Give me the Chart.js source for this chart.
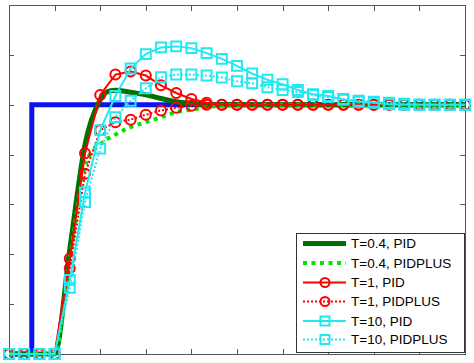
<!DOCTYPE html>
<html>
<head>
<meta charset="utf-8">
<script src="https://cdn.jsdelivr.net/npm/chart.js@4/dist/chart.umd.min.js"></script>
<style>
  html, body { margin: 0; padding: 0; background: #fff; overflow: hidden; }
  #wrap { position: relative; width: 474px; height: 363px; overflow: hidden; }
  #c { position: absolute; left: 0; top: -4px; }
  #legend { position: absolute; left: 296px; top: 233px; }
</style>
</head>
<body>
<div id="wrap">
  <canvas id="c" width="474" height="367"></canvas>
  <svg id="legend" width="170" height="121" xmlns="http://www.w3.org/2000/svg"></svg>
</div>
<script>
// ---- data ----
const times = [0, 0.333, 0.667, 1, 1.333, 1.667, 2, 2.333, 2.667, 3, 3.333, 3.667, 4, 4.333, 4.667,
               5, 5.333, 5.667, 6, 6.333, 6.667, 7, 7.333, 7.667, 8, 8.333, 8.667, 9, 9.333, 9.667, 10];

const stepTimes  = [0, 0.5, 0.5, 10];
const stepValues = [0, 0, 1, 1];

const pid04 = [0, 0, 0, 0, 0.42, 0.84, 1.02, 1.058, 1.05, 1.04, 1.025, 1.012, 1.005, 1.0, 1.0,
               1.0, 1.0, 1.0, 1.0, 1.0, 1.0, 1.0, 1.0, 1.0, 1.0, 1.0, 1.0, 1.0, 1.0, 1.0, 1.0];
const pidplus04 = [0, 0, 0, 0, 0.38, 0.75, 0.84, 0.88, 0.91, 0.93, 0.95, 0.97, 0.98, 0.99, 0.996,
               1.0, 1.0, 1.0, 1.0, 1.0, 1.0, 1.0, 1.0, 1.0, 1.0, 1.0, 1.0, 1.0, 1.0, 1.0, 1.0];
const pid1 = [0, 0, 0, 0, 0.383, 0.805, 1.039, 1.121, 1.133, 1.117, 1.078, 1.047, 1.023, 1.008, 1.0,
               1.0, 1.0, 1.0, 1.0, 1.0, 1.0, 1.0, 1.0, 1.0, 1.0, 1.0, 1.0, 1.0, 1.0, 1.0, 1.0];
const pidplus1 = [0, 0, 0, 0, 0.344, 0.723, 0.898, 0.93, 0.94, 0.96, 0.977, 0.988, 0.996, 1.0, 1.0,
               1.0, 1.0, 1.0, 1.0, 1.0, 1.0, 1.0, 1.0, 1.0, 1.0, 1.0, 1.0, 1.0, 1.0, 1.0, 1.0];
const pid10 = [0, 0, 0, 0, 0.297, 0.648, 0.898, 1.035, 1.145, 1.203, 1.23, 1.234, 1.227, 1.207, 1.184,
               1.156, 1.125, 1.10, 1.082, 1.059, 1.042, 1.035, 1.02, 1.012, 1.008, 1.002, 1.0, 1.0, 1.0, 1.0, 1.0];
const pidplus10 = [0, 0, 0, 0, 0.266, 0.61, 0.824, 0.95, 1.016, 1.066, 1.11, 1.121, 1.121, 1.117, 1.109,
               1.094, 1.086, 1.07, 1.059, 1.051, 1.039, 1.031, 1.023, 1.016, 1.012, 1.008, 1.004, 1.0, 1.0, 1.0, 1.0];

const xTicks = [0, 1, 2, 3, 4, 5, 6, 7, 8, 9, 10];
const yTicks = [0, 0.2, 0.4, 0.6, 0.8, 1.0, 1.2, 1.4];

const seriesNames = ['T=0.4, PID', 'T=0.4, PIDPLUS', 'T=1, PID', 'T=1, PIDPLUS', 'T=10, PID', 'T=10, PIDPLUS'];

// ---- styling ----
const BLUE = '#0a12ee', DKGREEN = '#007000', LIME = '#00e600', RED = '#ff0000', CYAN = '#22e8f2';
const AXIS = '#555555';

function pts(xs, ys) { return ys.map((v, i) => ({ x: xs[i], y: v })); }

const datasets = [
  { label: 'step', data: pts(stepTimes, stepValues), borderColor: BLUE, borderWidth: 5,
    pointRadius: 0, order: 7 },
  { label: seriesNames[0], data: pts(times, pid04), borderColor: DKGREEN, borderWidth: 5,
    pointRadius: 0, cubicInterpolationMode: 'monotone', order: 6 },
  { label: seriesNames[1], data: pts(times, pidplus04), borderColor: LIME, borderWidth: 4,
    borderDash: [4, 4.5], pointRadius: 0, cubicInterpolationMode: 'monotone', order: 5 },
  { label: seriesNames[2], data: pts(times, pid1), borderColor: RED, borderWidth: 2,
    pointStyle: 'circle', pointRadius: 5, pointBorderWidth: 2, pointBorderColor: RED,
    pointBackgroundColor: 'rgba(0,0,0,0)', order: 4 },
  { label: seriesNames[3], data: pts(times, pidplus1), borderColor: RED, borderWidth: 2,
    borderDash: [2, 2], pointStyle: 'circle', pointRadius: 5, pointBorderWidth: 2,
    pointBorderColor: RED, pointBackgroundColor: 'rgba(0,0,0,0)', order: 3 },
  { label: seriesNames[4], data: pts(times, pid10), borderColor: CYAN, borderWidth: 2,
    pointStyle: 'rect', pointRadius: 7, pointBorderWidth: 2, pointBorderColor: CYAN,
    pointBackgroundColor: 'rgba(0,0,0,0)', order: 2 },
  { label: seriesNames[5], data: pts(times, pidplus10), borderColor: CYAN, borderWidth: 2,
    borderDash: [2, 2], pointStyle: 'rect', pointRadius: 7, pointBorderWidth: 2,
    pointBorderColor: CYAN, pointBackgroundColor: 'rgba(0,0,0,0)', order: 1 }
];
datasets.forEach(d => { d.fill = false; d.tension = 0; d.clip = false; d.borderCapStyle = 'butt'; });

// box + inward ticks on all four sides (MATLAB style)
const axesBox = {
  id: 'axesBox',
  beforeDatasetsDraw(chart) {
    const { ctx, chartArea: { left, right, top, bottom }, scales: { x, y } } = chart;
    const L = 5;
    ctx.save();
    ctx.strokeStyle = AXIS;
    ctx.lineWidth = 1;
    ctx.strokeRect(left + 0.5, top + 0.5, right - left, bottom - top);
    ctx.beginPath();
    xTicks.forEach(v => {
      const px = Math.round(x.getPixelForValue(v)) + 0.5;
      ctx.moveTo(px, bottom); ctx.lineTo(px, bottom - L);
      ctx.moveTo(px, top); ctx.lineTo(px, top + L + 1);
    });
    yTicks.forEach(v => {
      const py = Math.round(y.getPixelForValue(v)) + 0.5;
      ctx.moveTo(left, py); ctx.lineTo(left + L, py);
      ctx.moveTo(right, py); ctx.lineTo(right - L, py);
    });
    ctx.stroke();
    ctx.restore();
  }
};

new Chart(document.getElementById('c'), {
  type: 'line',
  data: { datasets },
  options: {
    responsive: false,
    animation: false,
    layout: { padding: { left: 5, right: 9, top: 3, bottom: 5 } },
    plugins: { legend: { display: false }, tooltip: { enabled: false } },
    scales: {
      x: { type: 'linear', display: false, min: 0, max: 10 },
      y: { type: 'linear', display: false, min: 0, max: 1.4 }
    }
  },
  plugins: [axesBox]
});

// ---- legend (SVG, real text) ----
(function () {
  const svg = document.getElementById('legend');
  const NS = 'http://www.w3.org/2000/svg';
  const W = 168, H = 119;
  const box = document.createElementNS(NS, 'rect');
  box.setAttribute('x', 0.5); box.setAttribute('y', 0.5);
  box.setAttribute('width', W); box.setAttribute('height', H);
  box.setAttribute('fill', '#fff'); box.setAttribute('stroke', '#333'); box.setAttribute('stroke-width', 1);
  svg.appendChild(box);
  const rowsY = [10.5, 30, 49.5, 68.5, 88, 106.5];
  const styles = [
    { c: DKGREEN, w: 5, dash: null, m: null },
    { c: LIME, w: 4, dash: '4 4.5', m: null },
    { c: RED, w: 2, dash: null, m: 'circle' },
    { c: RED, w: 2, dash: '2 2', m: 'circle' },
    { c: CYAN, w: 2, dash: null, m: 'rect' },
    { c: CYAN, w: 2, dash: '2 2', m: 'rect' }
  ];
  seriesNames.forEach((name, i) => {
    const s = styles[i], yy = rowsY[i];
    const ln = document.createElementNS(NS, 'line');
    ln.setAttribute('x1', 7); ln.setAttribute('x2', 50);
    ln.setAttribute('y1', yy); ln.setAttribute('y2', yy);
    ln.setAttribute('stroke', s.c); ln.setAttribute('stroke-width', s.w);
    if (s.dash) ln.setAttribute('stroke-dasharray', s.dash);
    svg.appendChild(ln);
    if (s.m === 'circle') {
      const c = document.createElementNS(NS, 'circle');
      c.setAttribute('cx', 29); c.setAttribute('cy', yy); c.setAttribute('r', 4.5);
      c.setAttribute('fill', 'none'); c.setAttribute('stroke', s.c); c.setAttribute('stroke-width', 2);
      svg.appendChild(c);
    } else if (s.m === 'rect') {
      const r = document.createElementNS(NS, 'rect');
      r.setAttribute('x', 24.5); r.setAttribute('y', yy - 4.5);
      r.setAttribute('width', 9); r.setAttribute('height', 9);
      r.setAttribute('fill', 'none'); r.setAttribute('stroke', s.c); r.setAttribute('stroke-width', 2);
      svg.appendChild(r);
    }
    const t = document.createElementNS(NS, 'text');
    t.setAttribute('x', 55); t.setAttribute('y', yy + 4.6);
    t.setAttribute('font-family', 'Liberation Sans, Arial, sans-serif');
    t.setAttribute('font-size', '13.5');
    t.setAttribute('fill', '#000');
    t.textContent = name;
    svg.appendChild(t);
  });
})();
</script>
</body>
</html>
